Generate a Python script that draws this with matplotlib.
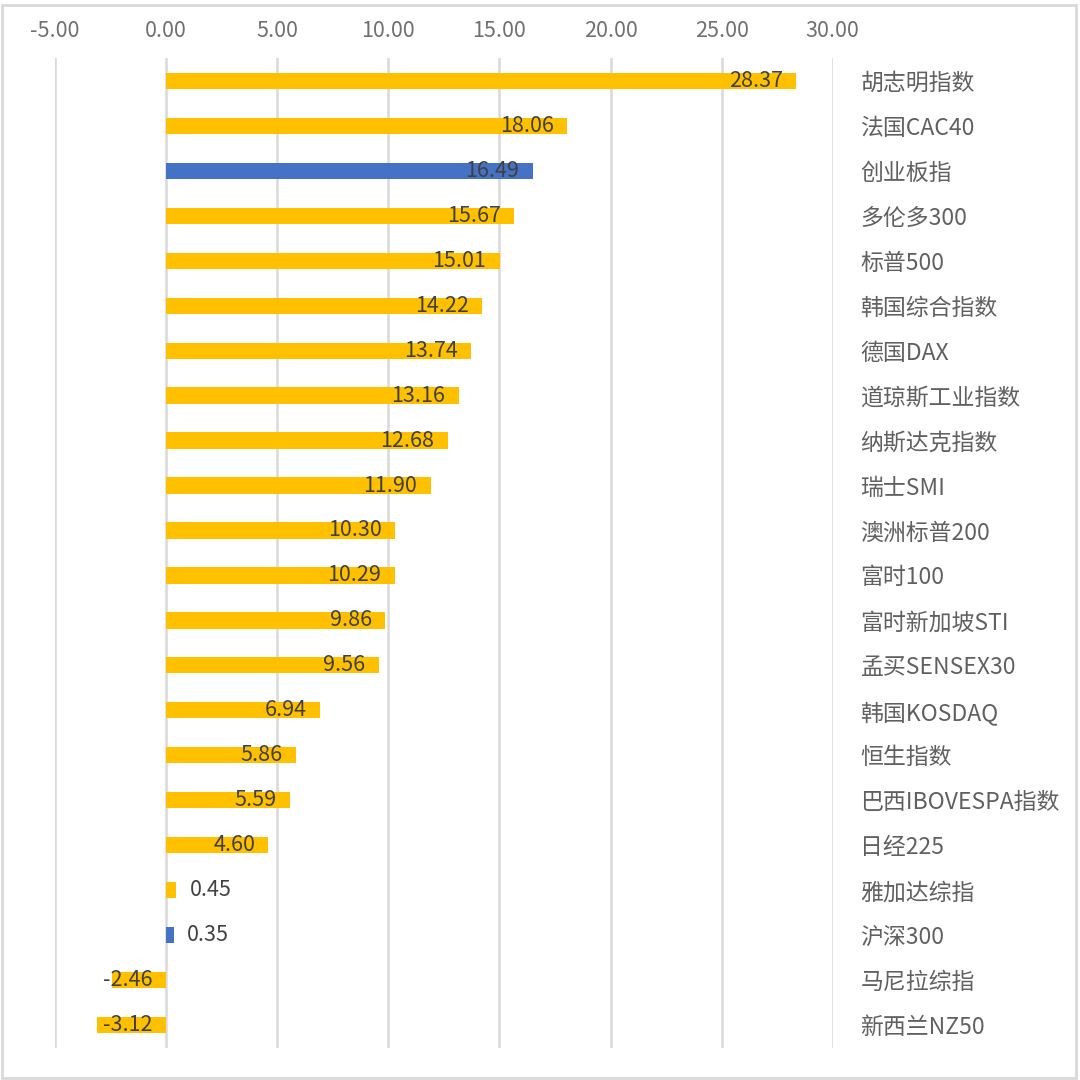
import matplotlib.pyplot as plt
from matplotlib.patches import Rectangle

plt.rcParams['font.family'] = ['Noto Sans CJK SC', 'DejaVu Sans']

# 指数名称 (从上到下)
names = ['胡志明指数', '法国CAC40', '创业板指', '多伦多300', '标普500', '韩国综合指数',
         '德国DAX', '道琼斯工业指数', '纳斯达克指数', '瑞士SMI', '澳洲标普200', '富时100',
         '富时新加坡STI', '孟买SENSEX30', '韩国KOSDAQ', '恒生指数', '巴西IBOVESPA指数',
         '日经225', '雅加达综指', '沪深300', '马尼拉综指', '新西兰NZ50']
values = [28.37, 18.06, 16.49, 15.67, 15.01, 14.22, 13.74, 13.16, 12.68, 11.90, 10.30, 10.29,
          9.86, 9.56, 6.94, 5.86, 5.59, 4.60, 0.45, 0.35, -2.46, -3.12]
highlight = ['创业板指', '沪深300']
xticks = [-5, 0, 5, 10, 15, 20, 25, 30]

gold = '#FFC000'
blue = '#4472C4'
colors = [blue if n in highlight else gold for n in names]

fig = plt.figure(figsize=(10.8, 10.8), dpi=100)
ax = fig.add_axes([0.051, 0.030, 0.72, 0.916])

ypos = list(range(len(names)))
ax.barh(ypos, values, height=0.36, color=colors, zorder=3)

ax.set_xlim(-5, 30)
ax.set_ylim(len(names) - 0.5, -0.5)

ax.set_xticks(xticks)
ax.set_xticklabels(['%.2f' % t for t in xticks])
ax.xaxis.tick_top()
ax.tick_params(axis='x', length=0, pad=12, labelsize=15.5, labelcolor='#707070')
ax.grid(axis='x', color='#D9D9D9', linewidth=1.8, zorder=0)

ax.set_yticks(ypos)
ax.set_yticklabels(names)
ax.yaxis.tick_right()
ax.tick_params(axis='y', length=0, pad=20, labelsize=16.5, labelcolor='#606060')

for s in ax.spines.values():
    s.set_visible(False)

# 数据标签
for y, v in zip(ypos, values):
    txt = '%.2f' % v
    if v > 1:
        ax.text(v - 0.6, y, txt, ha='right', va='center', fontsize=15.5, color='#404040', zorder=4)
    elif v >= 0:
        ax.text(v + 0.6, y, txt, ha='left', va='center', fontsize=15.5, color='#404040', zorder=4)
    else:
        ax.text(-0.6, y, txt, ha='right', va='center', fontsize=15.5, color='#404040', zorder=4)

# 外框
fig.patches.append(Rectangle((0.002, 0.002), 0.994, 0.993, transform=fig.transFigure,
                             fill=False, edgecolor='#D9D9D9', linewidth=2))

plt.savefig('out.png')
